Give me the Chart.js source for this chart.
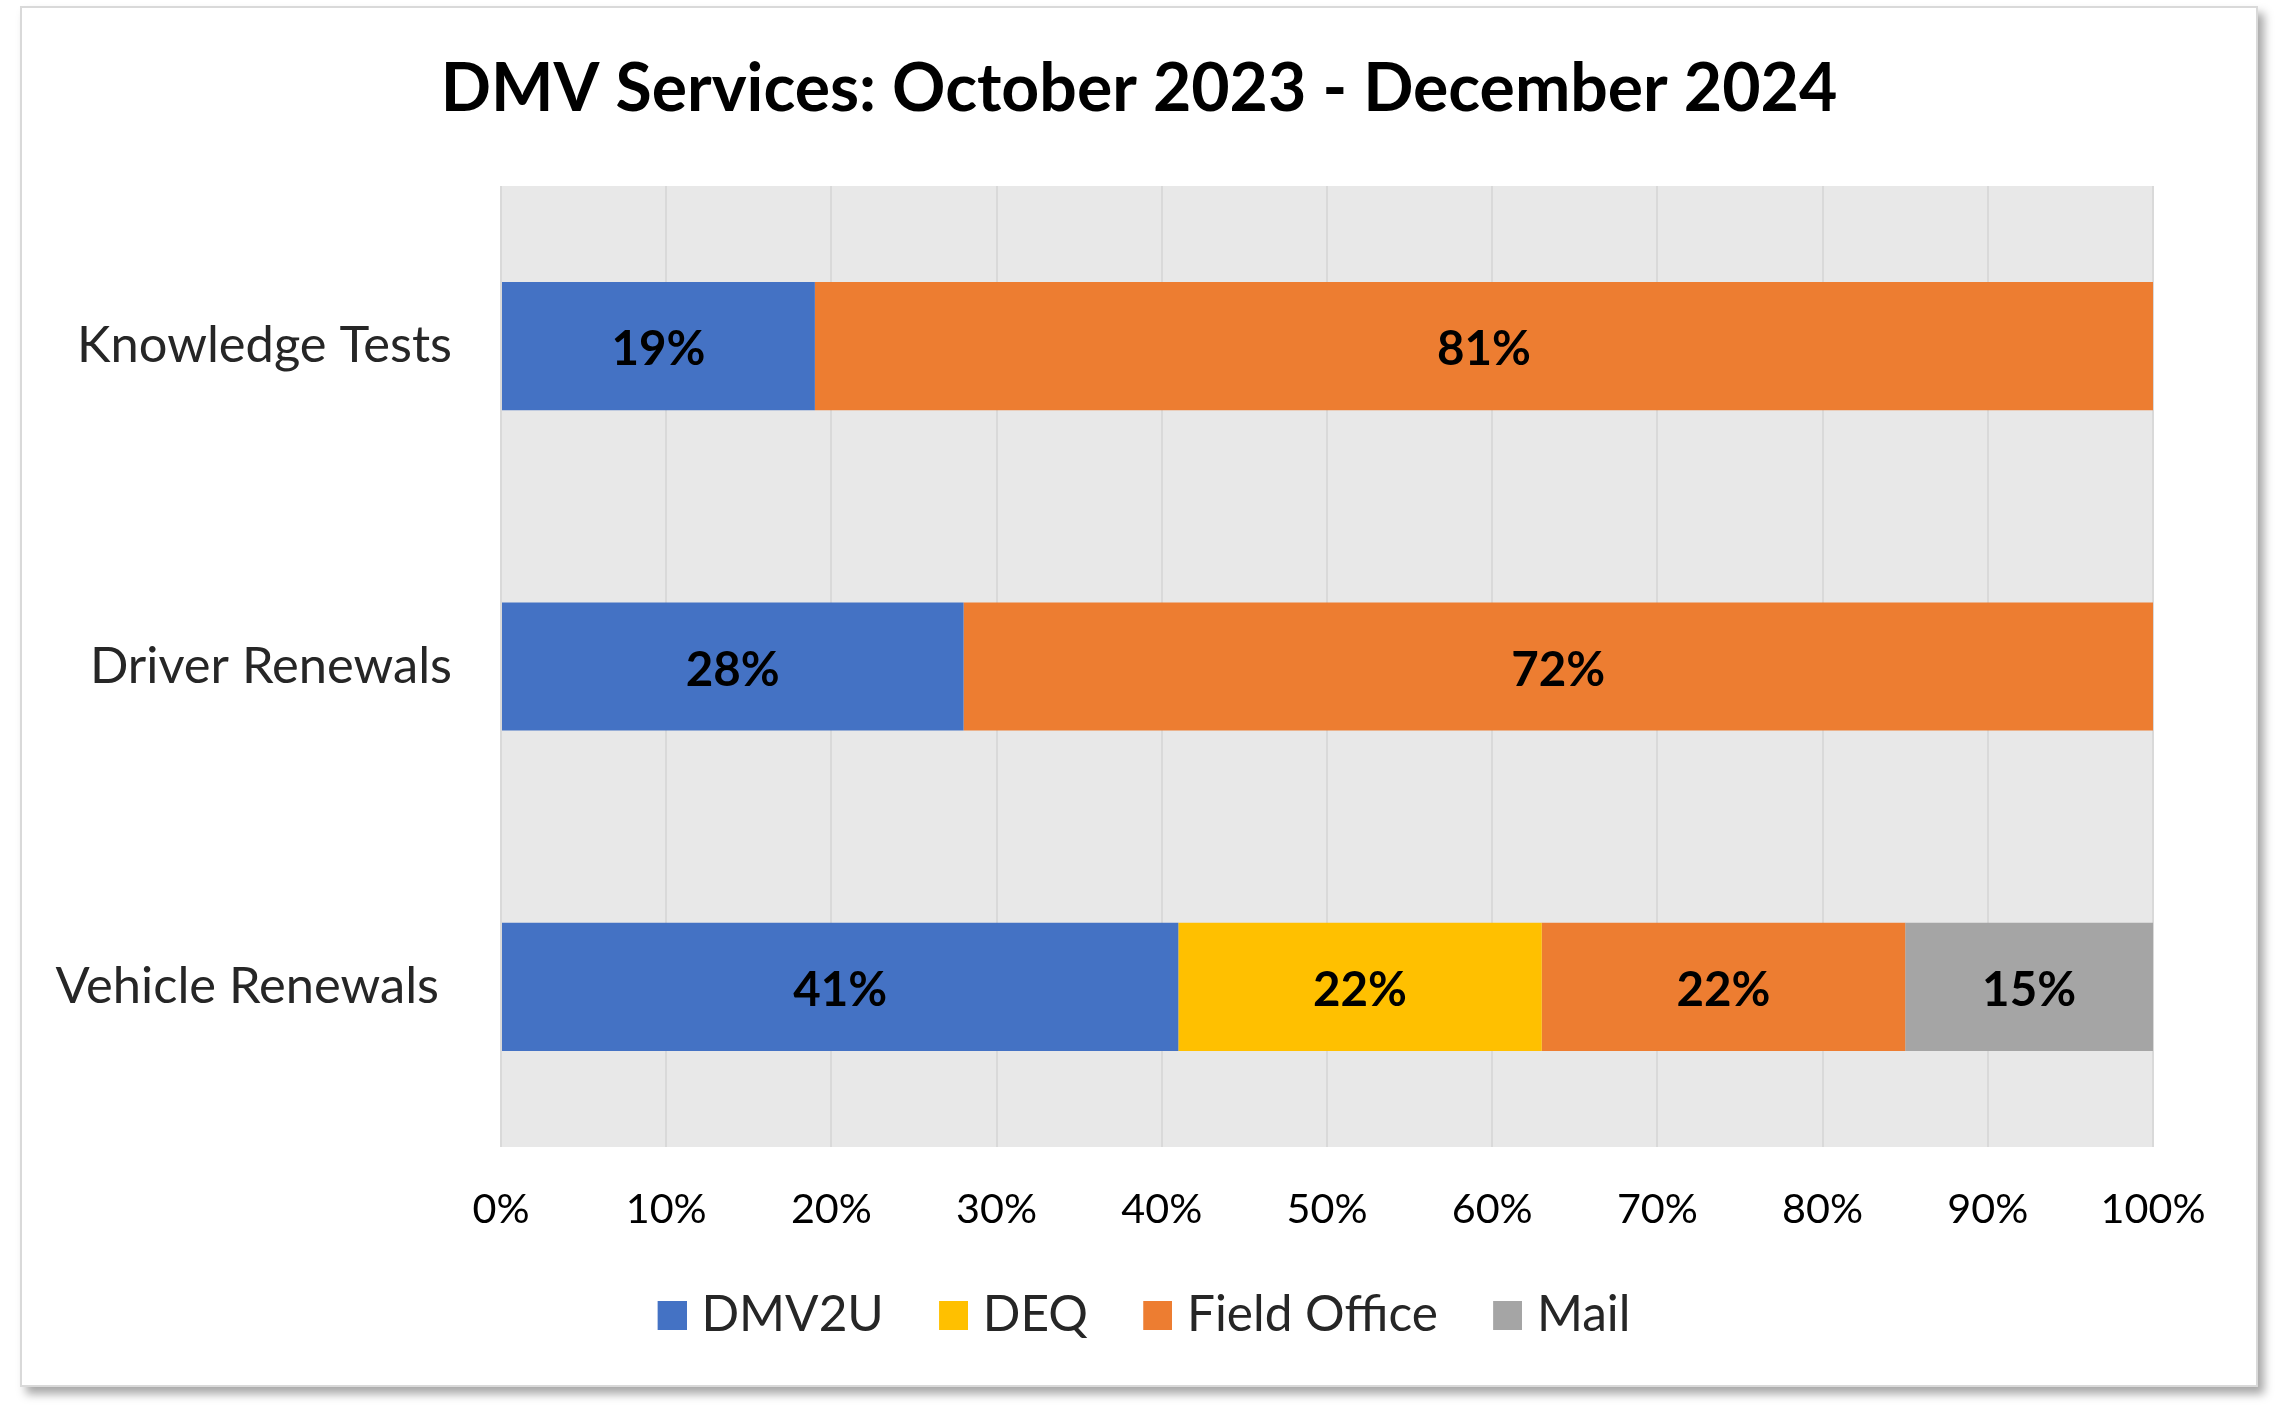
<!DOCTYPE html>
<html><head><meta charset="utf-8">
<script src="https://cdn.jsdelivr.net/npm/chart.js@4.4.1/dist/chart.umd.min.js"></script>
<style>
html,body{margin:0;padding:0;background:#fff;width:2277px;height:1422px;overflow:hidden;}
#frame{position:absolute;left:20px;top:6px;width:2234px;height:1377px;border:2px solid #d9d9d9;box-shadow:6px 7px 9px rgba(0,0,0,0.35);background:#fff;}
canvas{display:block;}
</style></head><body>
<div id="frame"><canvas id="c" width="2234" height="1377"></canvas></div>
<script>
// ---- data ----
const titleText = 'DMV Services: October 2023 - December 2024';
const categories = ['Knowledge Tests', 'Driver Renewals', 'Vehicle Renewals '];
const seriesNames = ['DMV2U', 'DEQ', 'Field Office', 'Mail'];
const dmv2u = [19, 28, 41];
const deq = [null, null, 22];
const fieldOffice = [81, 72, 22];
const mail = [null, null, 15];
const xMin = 0, xMax = 100, xStep = 10;

// ---- styles ----
const FAMILY = 'Lato';
const colors = ['#4472C4', '#FFC000', '#ED7D31', '#A5A5A5'];
function fitSize(text, weight, target) {
  const c = document.createElement('canvas').getContext('2d');
  c.font = weight + ' 100px ' + FAMILY;
  return 100 * target / c.measureText(text).width;
}
const titleSize = fitSize(titleText, 'bold', 1397);
const catSize = fitSize('Knowledge Tests', 'normal', 375);
const tickSize = fitSize('100%', 'normal', 105);
const legendSize = fitSize('Field Office', 'normal', 251);
const dlSize = fitSize('81%', 'bold', 94);

const W = 2234, H = 1377;
const plotLeft = 479, plotRight = 2131, plotTop = 178, plotBottom = 1139;
const titleCenter = 82, tickCenter = 1202, legendCenter = 1307;
const BOX = 29, BOX_GAP = 15, ITEM_GAP = 55;
const boxOff = Math.max(0, legendSize / 2 - BOX_GAP);
const legendPad = ITEM_GAP - boxOff;
const padBottom = H - legendCenter - 10 - legendSize / 2;
const legendTop = H - padBottom - (legendSize + legendPad + 10);

const allSeries = [dmv2u, deq, fieldOffice, mail];

// legend swatches: square offset so that the gap to the text matches
const swatches = colors.map(col => {
  const cv = document.createElement('canvas');
  cv.width = Math.round(2 * boxOff + BOX);
  cv.height = BOX;
  const g = cv.getContext('2d');
  g.fillStyle = col;
  g.fillRect(Math.round(2 * boxOff), 0, BOX, BOX);
  return cv;
});

const bgPlugin = {
  id: 'plotBg',
  beforeDraw(chart) {
    const {ctx, chartArea: a} = chart;
    ctx.save();
    ctx.fillStyle = '#E8E8E8';
    ctx.fillRect(a.left, a.top, a.right - a.left, a.bottom - a.top);
    ctx.restore();
  }
};
const labelPlugin = {
  id: 'dataLabels',
  afterDatasetsDraw(chart) {
    const ctx = chart.ctx;
    ctx.save();
    ctx.font = 'bold ' + dlSize + 'px ' + FAMILY;
    ctx.fillStyle = '#000';
    ctx.textAlign = 'center';
    ctx.textBaseline = 'middle';
    chart.data.datasets.forEach((ds, i) => {
      const meta = chart.getDatasetMeta(i);
      meta.data.forEach((el, j) => {
        const v = ds.data[j];
        if (v == null) return;
        const p = el.getProps(['x', 'y', 'base'], true);
        ctx.fillText(v + '%', (p.x + p.base) / 2, p.y + 4);
      });
    });
    ctx.restore();
  }
};

Chart.defaults.font.family = FAMILY;
new Chart(document.getElementById('c'), {
  type: 'bar',
  data: {
    labels: categories,
    datasets: seriesNames.map((n, i) => ({
      label: n,
      data: allSeries[i],
      backgroundColor: colors[i],
      borderWidth: 0,
      barPercentage: 0.4,
      categoryPercentage: 1.0
    }))
  },
  options: {
    indexAxis: 'y',
    responsive: false,
    animation: false,
    devicePixelRatio: 1,
    layout: {padding: {left: 0, right: 0, top: 0, bottom: padBottom}},
    scales: {
      x: {
        stacked: true,
        min: xMin, max: xMax,
        ticks: {stepSize: xStep, callback: v => v + '%', color: '#000', font: {size: tickSize}, padding: tickCenter - plotBottom - 0.6 * tickSize, maxRotation: 0},
        grid: {color: '#D9D9D9', lineWidth: 2, drawTicks: false},
        border: {display: false},
        afterFit(s) { s.height = legendTop - plotBottom; s.paddingRight = W - plotRight; }
      },
      y: {
        stacked: true,
        ticks: {color: '#262626', font: {size: catSize}, padding: 41},
        grid: {display: false},
        border: {display: false},
        afterFit(s) { s.width = plotLeft; }
      }
    },
    plugins: {
      title: {
        display: true, text: titleText, color: '#000',
        font: {size: titleSize, weight: 'bold'},
        padding: {top: titleCenter - 0.6 * titleSize, bottom: plotTop - titleCenter - 0.6 * titleSize}
      },
      legend: {
        position: 'bottom',
        labels: {
          color: '#262626', boxWidth: BOX, boxHeight: BOX, padding: legendPad,
          font: {size: legendSize}, usePointStyle: true,
          generateLabels(chart) {
            const items = Chart.defaults.plugins.legend.labels.generateLabels(chart);
            items.forEach((it, i) => { it.pointStyle = swatches[it.datasetIndex]; });
            return items;
          }
        }
      },
      tooltip: {enabled: false}
    }
  },
  plugins: [bgPlugin, labelPlugin]
});
</script>
</body></html>
